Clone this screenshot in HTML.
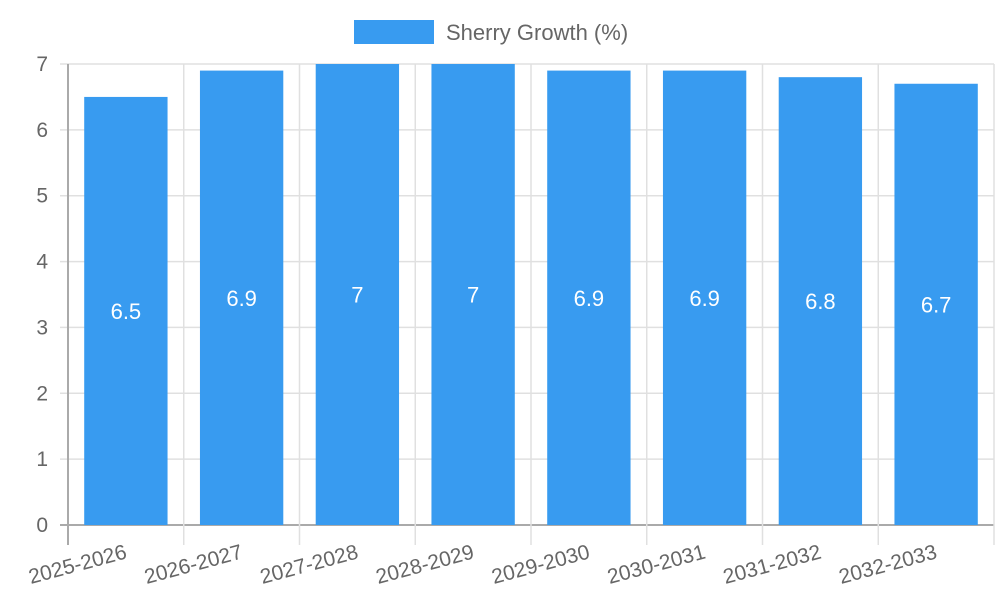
<!DOCTYPE html>
<html><head><meta charset="utf-8"><style>
body{margin:0;background:#fff;font-family:"Liberation Sans",sans-serif;}
</style></head><body>
<svg id="chart" width="1000" height="600" xmlns="http://www.w3.org/2000/svg">
<g id="legend">
<rect x="354" y="20" width="80" height="24" fill="#389bf0"/>
<text x="446" y="40" font-size="22" fill="#666">Sherry Growth (%)</text>
</g>
<g id="grid"></g><g id="bars"></g><g id="labels"></g>
</svg>
<script>
const categories=["2025-2026","2026-2027","2027-2028","2028-2029","2029-2030","2030-2031","2031-2032","2032-2033"];
const values=[6.5,6.9,7,7,6.9,6.9,6.8,6.7];
const yTicks=[0,1,2,3,4,5,6,7];
const NS="http://www.w3.org/2000/svg";
const L=68,R=994,T=64,B=525,yMax=7;
const y=v=>B-(v/yMax)*(B-T);
const cw=(R-L)/categories.length;
const xc=i=>L+cw*(i+0.5);
function mk(tag,attrs,parent){const e=document.createElementNS(NS,tag);for(const k in attrs)e.setAttribute(k,attrs[k]);parent.appendChild(e);return e;}
const grid=document.getElementById('grid'),bars=document.getElementById('bars'),labels=document.getElementById('labels');
yTicks.forEach(t=>{
 const ln=mk('line',{x1:L-8,x2:R,y1:y(t),y2:y(t),stroke:t===0?'#aaa':'#e0e0e0','stroke-width':t===0?2:1.5},grid);
 
 
 const tx=mk('text',{x:L-20,y:y(t)+7,'text-anchor':'end','font-size':21,fill:'#666'},labels);
 tx.textContent=t;
 
 
});
for(let i=0;i<=categories.length;i++){
 const gx=L+cw*i;
 const ln=mk('line',{x1:gx,x2:gx,y1:T,y2:B+20,stroke:i===0?'#aaa':'#e0e0e0','stroke-width':i===0?2:1.5},grid);
 
 
}
categories.forEach((c,i)=>{
 const bw=cw*0.72,v=values[i];
 const r=mk('rect',{x:xc(i)-bw/2,y:y(v),width:bw,height:B-y(v),fill:'#389bf0'},bars);
 
 
 const vt=mk('text',{x:xc(i),y:(y(v)+B)/2+8,'text-anchor':'middle','font-size':22,fill:'#fff'},labels);
 vt.textContent=v;
 
 
 const xt=mk('text',{x:0,y:0,'text-anchor':'end','font-size':21,fill:'#666',transform:`translate(${xc(i)+2},${B+33}) rotate(-15)`},labels);
 xt.textContent=c;
 
 
});
</script>
</body></html>
